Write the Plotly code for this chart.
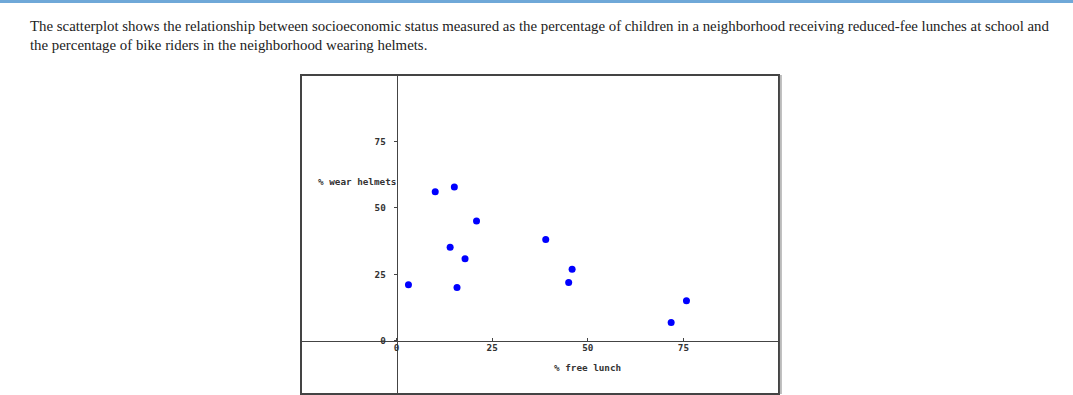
import plotly.graph_objects as go

# Data
free_lunch = [3.1, 10.1, 15.1, 20.9, 14.0, 17.9, 15.8, 39.0, 45.9, 45.0, 75.8, 71.8]
wear_helmets = [21.1, 56.1, 57.9, 45.1, 35.2, 30.9, 20.1, 38.1, 26.9, 21.9, 15.1, 6.9]
x_ticks = [0, 25, 50, 75]
y_ticks = [0, 25, 50, 75]
x_title = "% free lunch"
y_title = "% wear helmets"
intro = ("The scatterplot shows the relationship between socioeconomic status measured as the percentage of children "
         "in a neighborhood receiving reduced-fee lunches at school and<br>the percentage of bike riders in the "
         "neighborhood wearing helmets.")

W, H = 1073, 395
XR = [-25, 100]
YR = [-20, 100]
dom_x = [301 / W, 779 / W]
dom_y = [1 / H, (H - 75) / H]

# paper positions of the data zero lines
ypos_for_yaxis = dom_x[0] + (0 - XR[0]) / (XR[1] - XR[0]) * (dom_x[1] - dom_x[0])
xpos_for_xaxis = dom_y[0] + (0 - YR[0]) / (YR[1] - YR[0]) * (dom_y[1] - dom_y[0])

mono = dict(family="DejaVu Sans Mono", size=9.3, color="#333333", weight="bold")

fig = go.Figure()
fig.add_trace(go.Scatter(
    x=free_lunch, y=wear_helmets, mode="markers",
    marker=dict(color="#0000ff", size=7, line=dict(width=0)),
    hoverinfo="x+y", showlegend=False,
))

fig.update_layout(
    width=W, height=H,
    margin=dict(l=0, r=0, t=0, b=0),
    paper_bgcolor="white", plot_bgcolor="white",
    xaxis=dict(
        domain=dom_x, range=XR, anchor="free", position=xpos_for_xaxis,
        showgrid=False, zeroline=False, showline=True, linecolor="#444444", linewidth=1,
        tickmode="array", tickvals=x_ticks, ticktext=[str(v) for v in x_ticks],
        ticks="inside", ticklen=3, tickcolor="#444444", tickfont=mono,
        ticklabelstandoff=-2,
    ),
    yaxis=dict(
        domain=dom_y, range=YR, anchor="free", position=ypos_for_yaxis,
        showgrid=False, zeroline=False, showline=True, linecolor="#444444", linewidth=1,
        tickmode="array", tickvals=y_ticks, ticktext=[str(v) for v in y_ticks],
        ticks="outside", ticklen=3, tickcolor="#444444", tickfont=mono,
        ticklabelstandoff=6,
    ),
    shapes=[
        dict(type="rect", xref="paper", yref="paper", x0=0, x1=1, y0=(H - 3) / H, y1=1,
             fillcolor="#6fa8d8", line=dict(width=0), layer="above"),
        dict(type="rect", xref="x domain", yref="y domain", x0=0, x1=1, y0=0, y1=1,
             line=dict(color="#444444", width=2), layer="above"),
        dict(type="line", xref="x domain", yref="y domain", x0=1.004, x1=1.004, y0=0, y1=1,
             line=dict(color="#bbbbbb", width=2), layer="above"),
    ],
    annotations=[
        dict(text=intro, xref="paper", yref="paper", x=30 / W, y=1 - 16 / H,
             xanchor="left", yanchor="top", align="left", showarrow=False, xshift=-2,
             font=dict(family="Liberation Serif", size=14.85, color="#222222")),
        dict(text=y_title, xref="x", yref="y", x=0, y=60, xanchor="right", yanchor="middle",
             showarrow=False, font=mono, xshift=1),
        dict(text=x_title, xref="x", yref="y", x=50, y=-10, xanchor="center", yanchor="middle",
             showarrow=False, font=mono),
    ],
)

fig.write_html("out.html", config={"displayModeBar": False},
               post_script="document.body.style.margin='0';document.body.style.overflow='hidden';")
